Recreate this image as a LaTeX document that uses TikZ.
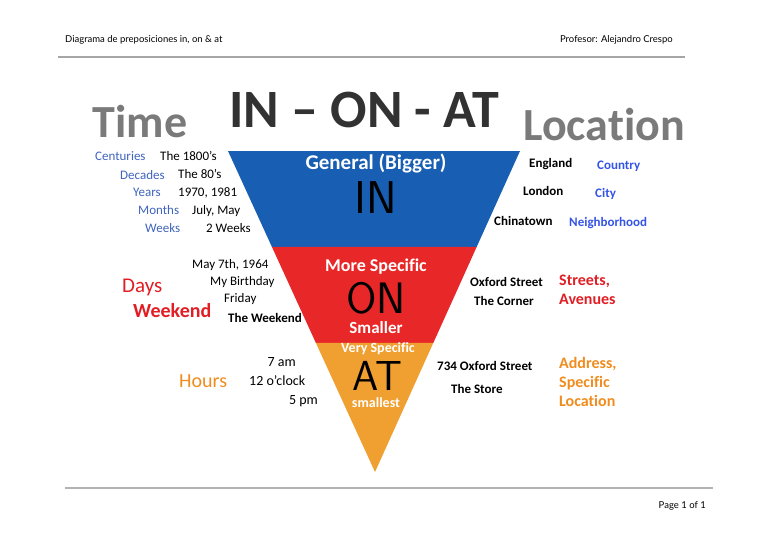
\documentclass[tikz,border=0pt]{standalone}
\usepackage{fontspec}
\setmainfont{Carlito}[Ligatures=NoCommon]
\newfontfamily\pagefont{Lato}
\usetikzlibrary{calc}

\definecolor{inblue}{RGB}{24,94,178}
\definecolor{onred}{RGB}{232,40,40}
\definecolor{atorange}{RGB}{240,160,48}
\definecolor{titlegray}{RGB}{50,50,50}
\definecolor{headgray}{RGB}{122,122,122}
\definecolor{timeblue}{RGB}{62,100,188}
\definecolor{placeblue}{RGB}{52,84,230}
\definecolor{labelred}{RGB}{225,30,35}
\definecolor{labelorange}{RGB}{240,140,30}

\tikzset{
  pagetext/.style={font=\pagefont\fontsize{9.5}{10}\selectfont, inner sep=0pt},
  bigword/.style={font=\bfseries\fontsize{46}{46}\selectfont, text=headgray, inner sep=0pt},
  levelword/.style={font=\bfseries\fontsize{21}{21}\selectfont, text=white, inner sep=0pt},
  prep/.style={font=\sffamily\fontsize{44}{44}\selectfont, inner sep=0pt},
  timekind/.style={font=\fontsize{13}{13}\selectfont, text=timeblue, inner sep=0pt, anchor=mid west},
  timeex/.style={font=\fontsize{13}{13}\selectfont, inner sep=0pt, anchor=mid west},
  placeex/.style={font=\bfseries\fontsize{13}{13}\selectfont, inner sep=0pt, anchor=mid west},
  placekind/.style={font=\bfseries\fontsize{13}{13}\selectfont, text=placeblue, inner sep=0pt, anchor=mid west},
}

\begin{document}
\begin{tikzpicture}[x=1pt,y=-1pt]
  \useasboundingbox (0,0) rectangle (768,543);

  % page header and footer
  \node[pagetext, anchor=mid west] (head) at (65,40) {Diagrama de preposiciones in, on \& at};
  \node[pagetext, anchor=mid east] (teacher) at (673,40) {Profesor: Alejandro Crespo};
  \draw[gray!70, line width=1.2pt] (58,57) -- (685,57);
  \draw[gray!60, line width=1.5pt] (65,488) -- (713,488);
  \node[pagetext, anchor=mid east] (pageno) at (706,506) {Page 1 of 1};

  % the funnel
  \coordinate (tl) at (228,151);
  \coordinate (tr) at (520,151);
  \coordinate (apex) at (375,472);
  \coordinate (l1) at ($(tl)!0.299!(apex)$);
  \coordinate (r1) at ($(tr)!0.299!(apex)$);
  \coordinate (l2) at ($(tl)!0.598!(apex)$);
  \coordinate (r2) at ($(tr)!0.598!(apex)$);
  \fill[inblue] (tl) -- (tr) -- (r1) -- (l1) -- cycle;
  \fill[onred] (l1) -- (r1) -- (r2) -- (l2) -- cycle;
  \fill[atorange] (l2) -- (r2) -- (apex) -- cycle;

  % titles
  \node[font=\bfseries\fontsize{54}{54}\selectfont, text=titlegray, inner sep=0pt] (title) at (364,110) {IN -- ON - AT};
  \node[bigword] (time) at (140,122) {Time};
  \node[bigword] (location) at (604,125) {Location};

  % levels
  \node[levelword] (general) at (376,163) {General (Bigger)};
  \node[prep, font=\sffamily\fontsize{46}{46}\selectfont] (in) at (376,198) {IN};
  \node[levelword, font=\bfseries\fontsize{18}{18}\selectfont] (morespec) at (376,267) {More Specific};
  \node[prep] (on) at (376,298) {ON};
  \node[levelword, font=\bfseries\fontsize{17}{17}\selectfont] (smaller) at (376,328) {Smaller};
  \node[levelword, font=\bfseries\fontsize{14}{14}\selectfont] (veryspec) at (378,349) {Very Specific};
  \node[prep, font=\sffamily\fontsize{42}{42}\selectfont] (at) at (377,376) {AT};
  \node[levelword, font=\bfseries\fontsize{14}{14}\selectfont] (smallest) at (376,403) {smallest};

  % time side
  \node[timekind] (centuries) at (95,158) {Centuries};
  \node[timeex] (c1800) at (160,158) {The 1800's};
  \node[timekind] (decades) at (120,177) {Decades};
  \node[timeex] (c80s) at (178,176) {The 80's};
  \node[timekind] (years) at (133,194) {Years};
  \node[timeex] (cyears) at (178,194) {1970, 1981};
  \node[timekind] (months) at (138,212) {Months};
  \node[timeex] (cmonths) at (192,212) {July, May};
  \node[timekind] (weeks) at (145,230) {Weeks};
  \node[timeex] (cweeks) at (206,230) {2 Weeks};

  \node[timekind, text=labelred, font=\fontsize{21}{21}\selectfont] (days) at (122,290) {Days};
  \node[timekind, text=labelred, font=\bfseries\fontsize{20}{20}\selectfont] (weekend) at (133,315) {Weekend};
  \node[timeex] (bday) at (192,266) {May 7th, 1964};
  \node[timeex] (mybday) at (210,283) {My Birthday};
  \node[timeex] (friday) at (224,300) {Friday};
  \node[timeex, font=\bfseries\fontsize{13}{13}\selectfont] (theweekend) at (228,320) {The Weekend};

  \node[timekind, text=labelorange, font=\fontsize{20}{20}\selectfont] (hours) at (179,385) {Hours};
  \node[timeex, anchor=mid east, font=\fontsize{14}{14}\selectfont] (sevenam) at (296,364) {7 am};
  \node[timeex, font=\fontsize{14}{14}\selectfont] (twelve) at (249,383) {12 o'clock};
  \node[timeex, anchor=mid east, font=\fontsize{14}{14}\selectfont] (fivepm) at (318,402) {5 pm};

  % location side
  \node[placeex] (england) at (529,165) {England};
  \node[placekind] (country) at (597,167) {Country};
  \node[placeex] (london) at (523,193) {London};
  \node[placekind] (city) at (595,195) {City};
  \node[placeex] (chinatown) at (494,223) {Chinatown};
  \node[placekind] (hood) at (569,224) {Neighborhood};

  \node[placeex] (oxford) at (470,284) {Oxford Street};
  \node[placeex] (corner) at (474,303) {The Corner};
  \node[placekind, text=labelred, font=\bfseries\fontsize{16}{16}\selectfont] (streets) at (559,283) {Streets,};
  \node[placekind, text=labelred, font=\bfseries\fontsize{16}{16}\selectfont] (avenues) at (559,302) {Avenues};

  \node[placeex] (oxford734) at (437,368) {734 Oxford Street};
  \node[placeex] (store) at (451,391) {The Store};
  \node[placekind, text=labelorange, font=\bfseries\fontsize{16}{16}\selectfont] (address) at (559,366) {Address,};
  \node[placekind, text=labelorange, font=\bfseries\fontsize{16}{16}\selectfont] (specific) at (559,385) {Specific};
  \node[placekind, text=labelorange, font=\bfseries\fontsize{16}{16}\selectfont] (loc) at (559,404) {Location};
\end{tikzpicture}
\end{document}
